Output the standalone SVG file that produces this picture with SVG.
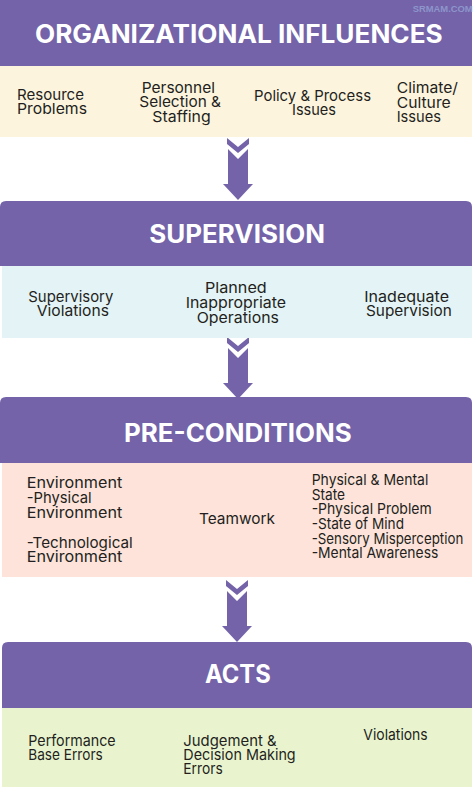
<svg xmlns="http://www.w3.org/2000/svg" width="474" height="789" viewBox="0 0 474 789">
<defs>
<style>
.hdr{fill:#7463a9}
.ttl{font-family:Inter,"Open Sans","Liberation Sans",sans-serif;font-weight:700;font-size:25px;fill:#ffffff}
.t{font-family:Inter,"Open Sans","Liberation Sans",sans-serif;font-weight:400;font-size:15px;fill:#231f20}
.arr{fill:#7463a9}
.wm{font-family:"Liberation Sans",Arial,sans-serif;font-weight:700;font-size:9.5px;fill:#8d95cb}
</style>
<g id="arrowShape">
<polygon points="227,138 238,147 249,138 249,144 238,153 227,144"/>
<polygon points="228,149 238,159 248,149 248,184 253,184 238,200 223,184 228,184"/>
</g>
</defs>
<rect x="0" y="0" width="474" height="789" fill="#ffffff"/>

<g id="connectors" class="arr">
<use href="#arrowShape"/>
<use href="#arrowShape" transform="translate(0,199)"/>
<use href="#arrowShape" transform="translate(-1,442)"/>
</g>

<g id="organizational-influences">
<rect class="hdr" x="0" y="0" width="472" height="66"/>
<rect x="0" y="66" width="472" height="71" fill="#fdf4de"/>
<text class="ttl" x="35" y="43.3" textLength="407.7" lengthAdjust="spacingAndGlyphs">ORGANIZATIONAL INFLUENCES</text>
<text class="wm" x="412.7" y="12" textLength="60" lengthAdjust="spacingAndGlyphs">SRMAM.COM</text>
<text class="t" x="17" y="100" textLength="67" lengthAdjust="spacingAndGlyphs">Resource</text>
<text class="t" x="17" y="113.5" textLength="70" lengthAdjust="spacingAndGlyphs">Problems</text>
<text class="t" x="141.7" y="92.7" textLength="73.3" lengthAdjust="spacingAndGlyphs">Personnel</text>
<text class="t" x="139.3" y="107.3" textLength="81.7" lengthAdjust="spacingAndGlyphs">Selection &amp;</text>
<text class="t" x="152.3" y="121.7" textLength="58.4" lengthAdjust="spacingAndGlyphs">Staffing</text>
<text class="t" x="254" y="100.7" textLength="117" lengthAdjust="spacingAndGlyphs">Policy &amp; Process</text>
<text class="t" x="292" y="115" textLength="44" lengthAdjust="spacingAndGlyphs">Issues</text>
<text class="t" x="396.7" y="93.3" textLength="61.3" lengthAdjust="spacingAndGlyphs">Climate/</text>
<text class="t" x="396.7" y="107.7" textLength="54" lengthAdjust="spacingAndGlyphs">Culture</text>
<text class="t" x="396.7" y="122" textLength="44.3" lengthAdjust="spacingAndGlyphs">Issues</text>
</g>

<g id="supervision">
<path class="hdr" d="M0,207 Q0,201 6,201 H466 Q472,201 472,207 V266 H0 Z"/>
<rect x="2" y="266" width="470" height="72" fill="#e4f3f6"/>
<text class="ttl" x="149.3" y="243.3" textLength="175.7" lengthAdjust="spacingAndGlyphs">SUPERVISION</text>
<text class="t" x="28.3" y="301.7" textLength="85" lengthAdjust="spacingAndGlyphs">Supervisory</text>
<text class="t" x="36.7" y="316" textLength="72.3" lengthAdjust="spacingAndGlyphs">Violations</text>
<text class="t" x="205" y="293.3" textLength="61.7" lengthAdjust="spacingAndGlyphs">Planned</text>
<text class="t" x="185.7" y="308.3" textLength="100.3" lengthAdjust="spacingAndGlyphs">Inappropriate</text>
<text class="t" x="196.7" y="322.7" textLength="82.3" lengthAdjust="spacingAndGlyphs">Operations</text>
<text class="t" x="364.3" y="301.7" textLength="84.7" lengthAdjust="spacingAndGlyphs">Inadequate</text>
<text class="t" x="366" y="316" textLength="85.7" lengthAdjust="spacingAndGlyphs">Supervision</text>
</g>

<g id="pre-conditions">
<path class="hdr" d="M0,403 Q0,397 6,397 H466 Q472,397 472,403 V463 H0 Z"/>
<rect x="2" y="463" width="470" height="114" fill="#fde3da"/>
<text class="ttl" x="124" y="441.7" textLength="227.7" lengthAdjust="spacingAndGlyphs">PRE-CONDITIONS</text>
<text class="t" x="26.7" y="488.3" textLength="95.6" lengthAdjust="spacingAndGlyphs">Environment</text>
<text class="t" x="26.7" y="503.3" textLength="65" lengthAdjust="spacingAndGlyphs">-Physical</text>
<text class="t" x="26.7" y="517.7" textLength="95.6" lengthAdjust="spacingAndGlyphs">Environment</text>
<text class="t" x="26.7" y="547.7" textLength="106" lengthAdjust="spacingAndGlyphs">-Technological</text>
<text class="t" x="26.7" y="562.3" textLength="95.6" lengthAdjust="spacingAndGlyphs">Environment</text>
<text class="t" x="199" y="524" textLength="76" lengthAdjust="spacingAndGlyphs">Teamwork</text>
<text class="t" x="311.7" y="485" textLength="116.6" lengthAdjust="spacingAndGlyphs">Physical &amp; Mental</text>
<text class="t" x="311.7" y="500" textLength="33.3" lengthAdjust="spacingAndGlyphs">State</text>
<text class="t" x="311.7" y="514.3" textLength="120" lengthAdjust="spacingAndGlyphs">-Physical Problem</text>
<text class="t" x="311.7" y="529.3" textLength="92.3" lengthAdjust="spacingAndGlyphs">-State of Mind</text>
<text class="t" x="311.7" y="544" textLength="151.6" lengthAdjust="spacingAndGlyphs">-Sensory Misperception</text>
<text class="t" x="311.7" y="558.3" textLength="126.6" lengthAdjust="spacingAndGlyphs">-Mental Awareness</text>
</g>

<g id="acts">
<path class="hdr" d="M2,648 Q2,642 8,642 H466 Q472,642 472,648 V708 H2 Z"/>
<rect x="2" y="708" width="470" height="79" fill="#e9f4cf"/>
<text class="ttl" x="205" y="682.7" textLength="65.7" lengthAdjust="spacingAndGlyphs">ACTS</text>
<text class="t" x="28.3" y="745.7" textLength="87.4" lengthAdjust="spacingAndGlyphs">Performance</text>
<text class="t" x="28.3" y="760" textLength="74.4" lengthAdjust="spacingAndGlyphs">Base Errors</text>
<text class="t" x="183.3" y="745.7" textLength="93.4" lengthAdjust="spacingAndGlyphs">Judgement &amp;</text>
<text class="t" x="183.3" y="760" textLength="112.4" lengthAdjust="spacingAndGlyphs">Decision Making</text>
<text class="t" x="183.3" y="774.3" textLength="39.4" lengthAdjust="spacingAndGlyphs">Errors</text>
<text class="t" x="363.3" y="740" textLength="64.4" lengthAdjust="spacingAndGlyphs">Violations</text>
</g>
</svg>
